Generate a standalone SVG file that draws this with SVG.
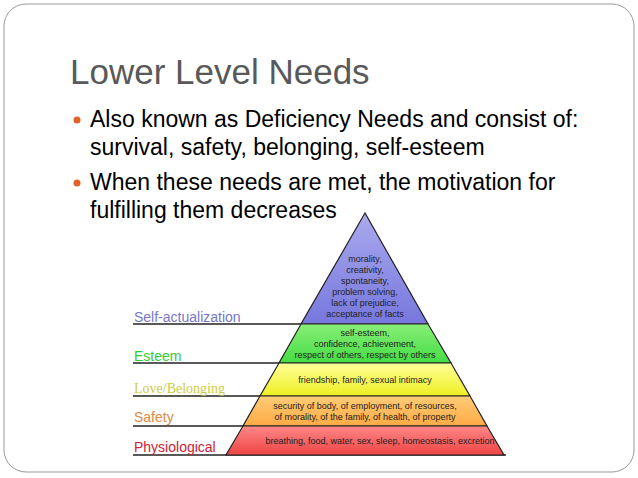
<svg xmlns="http://www.w3.org/2000/svg" width="638" height="478" viewBox="0 0 638 478">
<style>
.t{font-family:"Liberation Sans",Arial,sans-serif}
.b{font-size:23px;fill:#000}
.s{font-size:9px;fill:#222;text-anchor:middle}
.l{font-size:14px}
.ln{stroke:#222;stroke-width:1.5}
</style>
<defs>
<linearGradient id="g1" x1="0" y1="0" x2="0" y2="1"><stop offset="0" stop-color="#aaaaee"/><stop offset="1" stop-color="#7777dd"/></linearGradient>
<linearGradient id="g2" x1="0" y1="0" x2="0" y2="1"><stop offset="0" stop-color="#88ee77"/><stop offset="1" stop-color="#44dd44"/></linearGradient>
<linearGradient id="g3" x1="0" y1="0" x2="0" y2="1"><stop offset="0" stop-color="#ffff99"/><stop offset="1" stop-color="#eeee22"/></linearGradient>
<linearGradient id="g4" x1="0" y1="0" x2="0" y2="1"><stop offset="0" stop-color="#ffcc77"/><stop offset="1" stop-color="#ffaa44"/></linearGradient>
<linearGradient id="g5" x1="0" y1="0" x2="0" y2="1"><stop offset="0" stop-color="#ff8888"/><stop offset="1" stop-color="#ee4444"/></linearGradient>
</defs>
<rect width="638" height="478" fill="#fff"/>
<rect x="4" y="4" width="630" height="468" rx="22" fill="#fff" stroke="#999" stroke-width="1"/>
<text class="t" x="70" y="84" font-size="35" fill="#595959">Lower Level Needs</text>
<g id="bullets">
<circle cx="77" cy="120" r="3.5" fill="#e0622a"/>
<circle cx="77" cy="183" r="3.5" fill="#e0622a"/>
<text class="t b" x="90" y="127">Also known as Deficiency Needs and consist of:</text>
<text class="t b" x="90" y="155">survival, safety, belonging, self-esteem</text>
<text class="t b" x="90" y="190">When these needs are met, the motivation for</text>
<text class="t b" x="90" y="218">fulfilling them decreases</text>
</g>
<g id="connectors">
<line class="ln" x1="133" y1="324" x2="302" y2="324"/>
<line class="ln" x1="133" y1="363" x2="280" y2="363"/>
<line class="ln" x1="133" y1="396" x2="261" y2="396"/>
<line class="ln" x1="133" y1="426" x2="244" y2="426"/>
<line class="ln" x1="133" y1="455" x2="506" y2="455"/>
</g>
<g id="self-actualization">
<polygon points="365,213 301,324 428,324" fill="url(#g1)" stroke="#222" stroke-width="1.2"/>
<text class="t s" x="365" y="262">morality,</text>
<text class="t s" x="365" y="273">creativity,</text>
<text class="t s" x="365" y="284">spontaneity,</text>
<text class="t s" x="365" y="295">problem solving,</text>
<text class="t s" x="365" y="306">lack of prejudice,</text>
<text class="t s" x="365" y="317">acceptance of facts</text>
<text class="t l" x="134" y="322" fill="#7777cc">Self-actualization</text>
</g>
<g id="esteem">
<polygon points="301,324 428,324 451,363 279,363" fill="url(#g2)" stroke="#222" stroke-width="1.2"/>
<text class="t s" x="365" y="336">self-esteem,</text>
<text class="t s" x="365" y="347">confidence, achievement,</text>
<text class="t s" x="365" y="358">respect of others, respect by others</text>
<text class="t l" x="134" y="361" fill="#33cc33">Esteem</text>
</g>
<g id="love">
<polygon points="279,363 451,363 470,396 260,396" fill="url(#g3)" stroke="#222" stroke-width="1.2"/>
<text class="t s" x="365" y="383">friendship, family, sexual intimacy</text>
<text x="134" y="393" font-family="Liberation Serif,serif" font-size="14" fill="#cccc44">Love/Belonging</text>
</g>
<g id="safety">
<polygon points="260,396 470,396 487,426 243,426" fill="url(#g4)" stroke="#222" stroke-width="1.2"/>
<text class="t s" x="365" y="409">security of body, of employment, of resources,</text>
<text class="t s" x="365" y="420">of morality, of the family, of health, of property</text>
<text class="t l" x="134" y="422" fill="#e08844">Safety</text>
</g>
<g id="physiological">
<polygon points="243,426 487,426 504,455 226,455" fill="url(#g5)" stroke="#222" stroke-width="1.2"/>
<text class="t s" x="380" y="444">breathing, food, water, sex, sleep, homeostasis, excretion</text>
<text class="t l" x="134" y="452" fill="#cc2233">Physiological</text>
</g>
</svg>
